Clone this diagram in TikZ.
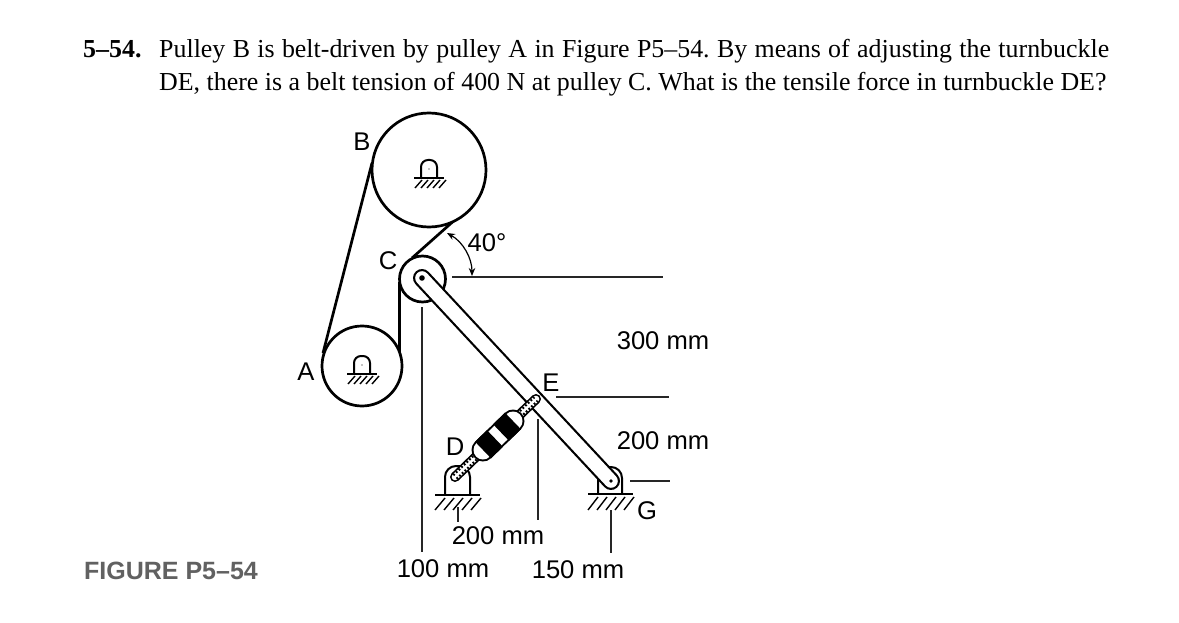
\documentclass[tikz,border=0pt]{standalone}
\usepackage{fontspec}
\usetikzlibrary{arrows.meta}
\setmainfont{Liberation Serif}
\newfontfamily\lab{Liberation Sans}
\begin{document}
\frenchspacing
\begin{tikzpicture}[x=1pt,y=-1pt,
  pulley/.style={circle,draw=black,line width=2.7pt,inner sep=0pt,fill=white},
  belt/.style={line width=2.7pt,black},
  dim/.style={line width=1.3pt,black!85},
  prob/.style={anchor=base west,inner sep=0pt,font=\fontsize{25.9}{28}\selectfont},
  lbl/.style={inner sep=0pt,font=\lab\fontsize{25.6}{28}\selectfont},
  mount/.style={line width=2pt,rounded corners=#1},
  gnd/.style={line width=2.2pt},
  hatch/.style={line width=1.4pt}]
\useasboundingbox (0,0) rectangle (1179,623);
\fill[white] (0,0) rectangle (1179,623);
% text
\node[prob] (num) at (83,58) {\textbf{5–54.}};
\node[prob] (l1) at (159,58) {\makebox[950pt][s]{Pulley B is belt-driven by pulley A in Figure P5–54. By means of adjusting the turnbuckle}};
\node[prob] (l2) at (159,91) {DE, there is a belt tension of 400 N at pulley C. What is the tensile force in turnbuckle DE?};
\node[inner sep=0pt,anchor=base west,text=black!62,font=\lab\bfseries\fontsize{25}{26}\selectfont] (fig) at (84,579) {FIGURE P5–54};
% dimension lines
\coordinate (h1a) at (452,277); \coordinate (h1b) at (663,277);
\coordinate (h2a) at (556,397); \coordinate (h2b) at (669,397);
\coordinate (h3a) at (630,481); \coordinate (h3b) at (670,481);
\coordinate (v1a) at (422,307); \coordinate (v1b) at (422,552);
\coordinate (v2a) at (538,419); \coordinate (v2b) at (538,520);
\coordinate (v3a) at (611,510); \coordinate (v3b) at (611,553);
\coordinate (v4a) at (458,507); \coordinate (v4b) at (458,522);
\foreach \a/\b in {h1a/h1b,h2a/h2b,h3a/h3b,v1a/v1b,v2a/v2b,v3a/v3b,v4a/v4b}
  \draw[dim] (\a) -- (\b);
% belts
\coordinate (ba) at (323,353); \coordinate (bb) at (372,163);
\coordinate (cb) at (412,258); \coordinate (bc) at (457,218);
\coordinate (ca) at (399.5,282); \coordinate (ac) at (399.5,366);
\draw[belt] (ba) -- (bb);
\draw[belt] (cb) -- (bc);
\draw[belt] (ca) -- (ac);
% pulleys
\node[pulley,minimum size=114pt] (B) at (429,170) {};
\node[pulley,minimum size=80pt] (PA) at (362,366) {};
\node[pulley,minimum size=46pt] (C) at (422.5,279) {};
% small supports in pulleys
\foreach \cx/\cy in {429/170,362/366}{
  \begin{scope}[shift={(\cx,\cy)}]
    \draw[mount=7pt] (-8,8) -- (-8,-10) -- (8,-10) -- (8,8);
    \draw[gnd] (-15,8) -- (15,8);
    \foreach \h in {-14,-8,-2,4,10} \draw[hatch] (\h,18) -- (\h+7,10);
    \fill (0,-1) circle (0.7);
  \end{scope}}
% brackets at D and G
\draw[mount=11pt] (445,495) -- (445,466) -- (470,466) -- (470,495);
\draw[gnd] (435,495) -- (480,495);
\foreach \h in {435,444,453,462,471} \draw[hatch] (\h,510) -- (\h+10,498);
\draw[mount=11pt] (598,494) -- (598,467) -- (622,467) -- (622,494);
\draw[gnd] (588,494) -- (633,494);
\foreach \h in {588,597,606,615,624} \draw[hatch] (\h,510) -- (\h+10,497);
% arm
\coordinate (pc) at (422,278); \coordinate (pg) at (611,481);
\draw[line width=18pt,line cap=round,black] (pc) -- (pg);
\draw[line width=13.6pt,line cap=round,white] (pc) -- (pg);
\fill (pc) circle (2.8);
\fill (pg) circle (1.8);
% turnbuckle
\coordinate (pd) at (455,477); \coordinate (pe) at (536,399);
\draw[line width=10pt,line cap=round,black] (pd) -- (pe);
\draw[line width=6.6pt,line cap=round,white] (pd) -- (pe);
\draw[line width=7pt,black,dash pattern=on 1.8pt off 1.9pt] (pd) -- (pe);
\draw[line width=2.4pt,line cap=round,white] (pd) -- (pe);
\coordinate (t1) at (483,450); \coordinate (t2) at (495,438.5);
\coordinate (t3) at (501,432.5); \coordinate (t4) at (513,421);
\draw[line width=23pt,line cap=round,black] (t1) -- (t4);
\draw[line width=19pt,line cap=round,white] (t1) -- (t4);
\draw[line width=23pt,black] (t1) -- (t2);
\draw[line width=23pt,black] (t3) -- (t4);
% angle
\coordinate (ang1) at (472,276); \coordinate (ang2) at (447,233);
\draw[line width=1.2pt,{Stealth[length=8pt,width=6.5pt]}-{Stealth[length=8pt,width=6.5pt]}] (ang1) .. controls (472,258) and (463,242) .. (ang2);
% labels
\node[lbl] (tB) at (362,142) {B};
\node[lbl] (tC) at (388,261) {C};
\node[lbl] (tA) at (306,372) {A};
\node[lbl] (tD) at (455,447) {D};
\node[lbl] (tE) at (551,383) {E};
\node[lbl] (tG) at (647,511) {G};
\node[lbl] (t40) at (487,243) {40°};
\node[lbl] (d300) at (663,341) {300 mm};
\node[lbl] (d200a) at (663,441) {200 mm};
\node[lbl] (d200b) at (498,536) {200 mm};
\node[lbl] (d100) at (443,569) {100 mm};
\node[lbl] (d150) at (578,570) {150 mm};
\end{tikzpicture}
\end{document}
